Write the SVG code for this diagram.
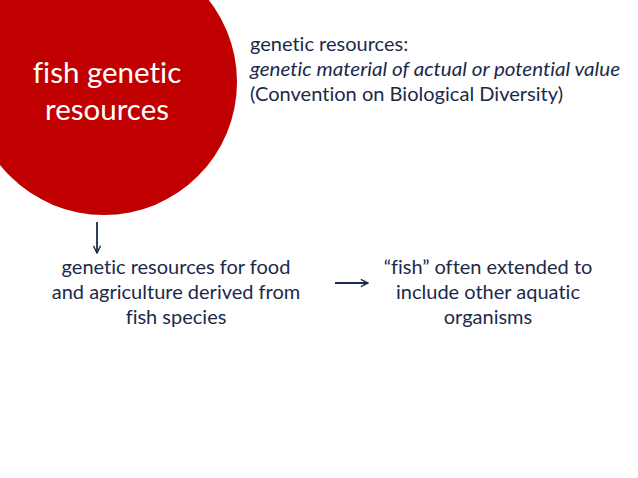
<svg xmlns="http://www.w3.org/2000/svg" width="638" height="478" viewBox="0 0 638 478">
<defs>
<style>
text{font-variant-ligatures:none;font-feature-settings:"liga" 0}
.t{font-family:Lato,"Open Sans","Liberation Sans",sans-serif;fill:#1b2a4a;font-size:20px}
.c{text-anchor:middle}
.w{font-family:Lato,"Open Sans","Liberation Sans",sans-serif;fill:#ffffff;font-size:29.5px;text-anchor:middle}
.ln{stroke:#1b2a4a;stroke-width:1.8;fill:none}
</style>
<marker id="ah" viewBox="0 0 10 10" refX="9" refY="5" markerWidth="9" markerHeight="9" markerUnits="userSpaceOnUse" orient="auto">
<path d="M1,1 L9,5 L1,9" fill="none" stroke="#1b2a4a" stroke-width="1.6"/>
</marker>
</defs>
<rect width="638" height="478" fill="#ffffff"/>
<g id="circle">
<circle cx="104" cy="82" r="133" fill="#c00000"/>
<text class="w" x="107" y="83">fish genetic</text>
<text class="w" x="107" y="120">resources</text>
</g>
<g id="definition">
<text class="t" x="250" y="51">genetic resources:</text>
<text class="t" x="250" y="76" font-style="italic" textLength="370" lengthAdjust="spacingAndGlyphs">genetic material of actual or potential value</text>
<text class="t" x="250" y="101" textLength="313" lengthAdjust="spacingAndGlyphs">(Convention on Biological Diversity)</text>
</g>
<g id="food">
<text class="t c" x="176" y="274">genetic resources for food</text>
<text class="t c" x="176" y="299">and agriculture derived from</text>
<text class="t c" x="176" y="324">fish species</text>
</g>
<g id="fish">
<text class="t c" x="488" y="274">“fish” often extended to</text>
<text class="t c" x="488" y="299">include other aquatic</text>
<text class="t c" x="488" y="324">organisms</text>
</g>
<g id="connectors">
<line class="ln" x1="97" y1="222" x2="97" y2="253" marker-end="url(#ah)"/>
<line class="ln" x1="335" y1="283" x2="368" y2="283" marker-end="url(#ah)"/>
</g>
</svg>
